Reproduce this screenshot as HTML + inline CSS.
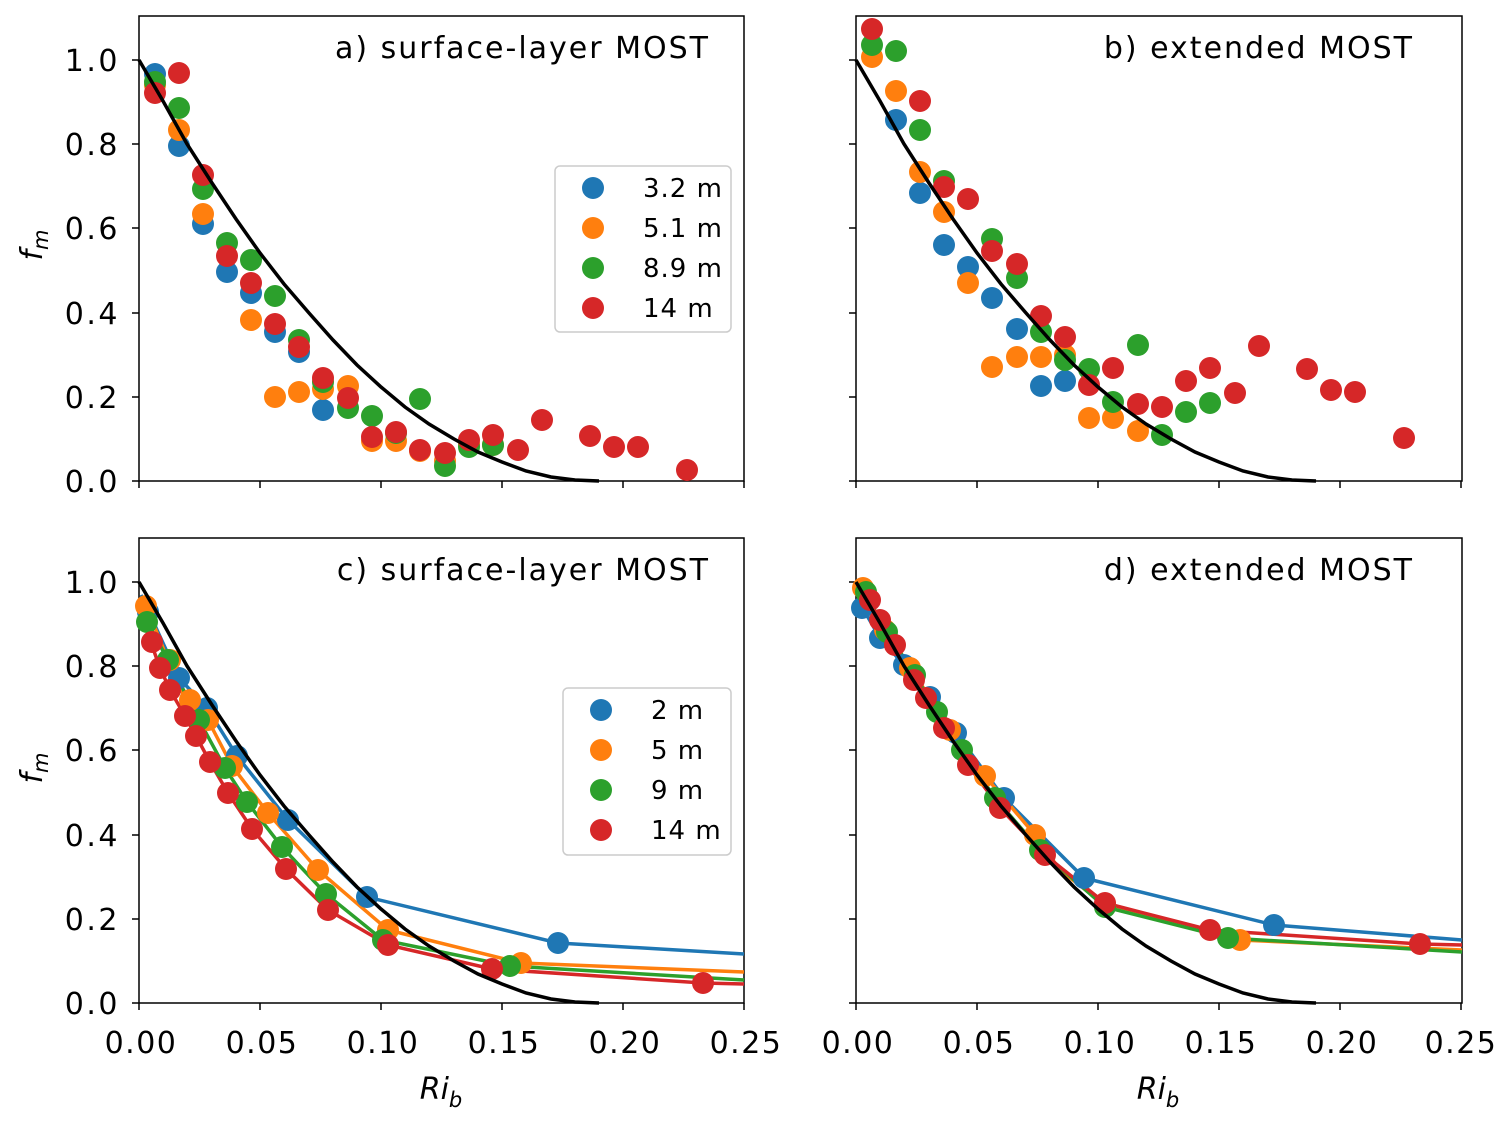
<!DOCTYPE html>
<html><head><meta charset="utf-8"><style>body{margin:0;background:#fff}svg{display:block}text{font-family:"DejaVu Sans","Liberation Sans",sans-serif;fill:#000}</style></head><body>
<svg width="1510" height="1121" viewBox="0 0 1510 1121">
<defs>
<polyline id="bk" fill="none" stroke="#000" stroke-width="3.5" points="139,60 163,101 187,144 212,183 236,219 260,253 284,284 309,313 333,340 357,365 381,387 405,407 429,424 454,439 478,452 502,462 526,471 551,477 575,480 599,481"/>
<g id="yt">
<g stroke="#000" stroke-width="1.5"><line x1="132" y1="481" x2="139" y2="481"/><line x1="132" y1="397" x2="139" y2="397"/><line x1="132" y1="313" x2="139" y2="313"/><line x1="132" y1="228" x2="139" y2="228"/><line x1="132" y1="144" x2="139" y2="144"/><line x1="132" y1="60" x2="139" y2="60"/></g>
</g>
<g id="xt" stroke="#000" stroke-width="1.5"><line x1="139" y1="481" x2="139" y2="488"/><line x1="260" y1="481" x2="260" y2="488"/><line x1="381" y1="481" x2="381" y2="488"/><line x1="502" y1="481" x2="502" y2="488"/><line x1="623" y1="481" x2="623" y2="488"/><line x1="744" y1="481" x2="744" y2="488"/></g>
</defs>
<g fill="none" stroke="#000" stroke-width="1.5">
<rect x="139" y="16" width="605" height="465"/><rect x="856" y="16" width="606" height="465"/>
<rect x="139" y="538" width="605" height="465"/><rect x="856" y="538" width="606" height="465"/>
</g>
<use href="#yt"/><use href="#yt" x="717"/><use href="#yt" y="522"/><use href="#yt" x="717" y="522"/>
<use href="#xt"/><use href="#xt" x="717"/><use href="#xt" y="522"/><use href="#xt" x="717" y="522"/>
<g font-size="30" letter-spacing="2.5" text-anchor="end">
<text x="120" y="492">0.0</text><text x="120" y="408">0.2</text><text x="120" y="324">0.4</text><text x="120" y="239">0.6</text><text x="120" y="155">0.8</text><text x="120" y="71">1.0</text>
<text x="120" y="1014">0.0</text><text x="120" y="930">0.2</text><text x="120" y="846">0.4</text><text x="120" y="761">0.6</text><text x="120" y="677">0.8</text><text x="120" y="593">1.0</text>
</g>
<g font-size="30" letter-spacing="1.5" text-anchor="middle">
<text x="141" y="1053">0.00</text><text x="262" y="1053">0.05</text><text x="383" y="1053">0.10</text><text x="504" y="1053">0.15</text><text x="625" y="1053">0.20</text><text x="746" y="1053">0.25</text>
<text x="858" y="1053">0.00</text><text x="979" y="1053">0.05</text><text x="1100" y="1053">0.10</text><text x="1221" y="1053">0.15</text><text x="1342" y="1053">0.20</text><text x="1461" y="1053">0.25</text>
</g>
<g font-size="30" text-anchor="middle">
<text x="441" y="1099" font-style="italic">Ri<tspan font-size="21" dy="8">b</tspan></text>
<text x="1158" y="1099" font-style="italic">Ri<tspan font-size="21" dy="8">b</tspan></text>
</g>
<text transform="translate(42,245) rotate(-90)" font-size="30" text-anchor="middle" font-style="italic">f<tspan font-size="21" dy="6">m</tspan></text>
<text transform="translate(42,768) rotate(-90)" font-size="30" text-anchor="middle" font-style="italic">f<tspan font-size="21" dy="6">m</tspan></text>
<g font-size="30" letter-spacing="2" text-anchor="end">
<text x="710" y="58">a) surface-layer MOST</text><text x="1414" y="58">b) extended MOST</text>
<text x="710" y="580">c) surface-layer MOST</text><text x="1414" y="580">d) extended MOST</text>
</g>
<g fill="#1f77b4"><circle cx="155" cy="74" r="11"/><circle cx="179" cy="146" r="11"/><circle cx="203" cy="224" r="11"/><circle cx="227" cy="272" r="11"/><circle cx="251" cy="293" r="11"/><circle cx="275" cy="332" r="11"/><circle cx="299" cy="352" r="11"/><circle cx="323" cy="410" r="11"/></g>
<g fill="#ff7f0e"><circle cx="155" cy="85" r="11"/><circle cx="179" cy="130" r="11"/><circle cx="203" cy="214" r="11"/><circle cx="251" cy="320" r="11"/><circle cx="275" cy="397" r="11"/><circle cx="299" cy="392" r="11"/><circle cx="323" cy="389" r="11"/><circle cx="348" cy="386" r="11"/><circle cx="372" cy="441" r="11"/><circle cx="396" cy="441" r="11"/><circle cx="420" cy="451" r="11"/><circle cx="445" cy="461" r="11"/><circle cx="469" cy="444" r="11"/><circle cx="493" cy="445" r="11"/></g>
<g fill="#2ca02c"><circle cx="155" cy="82" r="11"/><circle cx="179" cy="108" r="11"/><circle cx="203" cy="189" r="11"/><circle cx="227" cy="243" r="11"/><circle cx="251" cy="260" r="11"/><circle cx="275" cy="296" r="11"/><circle cx="299" cy="340" r="11"/><circle cx="323" cy="382" r="11"/><circle cx="348" cy="408" r="11"/><circle cx="372" cy="416" r="11"/><circle cx="396" cy="433" r="11"/><circle cx="420" cy="399" r="11"/><circle cx="445" cy="466" r="11"/><circle cx="469" cy="447" r="11"/><circle cx="493" cy="445" r="11"/></g>
<g fill="#d62728"><circle cx="155" cy="93" r="11"/><circle cx="179" cy="73" r="11"/><circle cx="203" cy="175" r="11"/><circle cx="227" cy="256" r="11"/><circle cx="251" cy="283" r="11"/><circle cx="275" cy="324" r="11"/><circle cx="299" cy="347" r="11"/><circle cx="323" cy="378" r="11"/><circle cx="348" cy="398" r="11"/><circle cx="372" cy="437" r="11"/><circle cx="396" cy="432" r="11"/><circle cx="420" cy="450" r="11"/><circle cx="445" cy="453" r="11"/><circle cx="469" cy="440" r="11"/><circle cx="493" cy="435" r="11"/><circle cx="518" cy="450" r="11"/><circle cx="542" cy="420" r="11"/><circle cx="590" cy="436" r="11"/><circle cx="614" cy="447" r="11"/><circle cx="638" cy="447" r="11"/><circle cx="687" cy="470" r="11"/></g>
<use href="#bk"/>
<g fill="#1f77b4"><circle cx="896" cy="120" r="11"/><circle cx="920" cy="193" r="11"/><circle cx="944" cy="245" r="11"/><circle cx="968" cy="267" r="11"/><circle cx="992" cy="298" r="11"/><circle cx="1017" cy="329" r="11"/><circle cx="1041" cy="386" r="11"/><circle cx="1065" cy="381" r="11"/></g>
<g fill="#ff7f0e"><circle cx="872" cy="57" r="11"/><circle cx="896" cy="91" r="11"/><circle cx="920" cy="172" r="11"/><circle cx="944" cy="212" r="11"/><circle cx="968" cy="283" r="11"/><circle cx="992" cy="367" r="11"/><circle cx="1017" cy="357" r="11"/><circle cx="1041" cy="357" r="11"/><circle cx="1065" cy="355" r="11"/><circle cx="1089" cy="418" r="11"/><circle cx="1113" cy="418" r="11"/><circle cx="1138" cy="431" r="11"/></g>
<g fill="#2ca02c"><circle cx="872" cy="45" r="11"/><circle cx="896" cy="51" r="11"/><circle cx="920" cy="130" r="11"/><circle cx="944" cy="181" r="11"/><circle cx="992" cy="239" r="11"/><circle cx="1017" cy="278" r="11"/><circle cx="1041" cy="332" r="11"/><circle cx="1065" cy="360" r="11"/><circle cx="1089" cy="369" r="11"/><circle cx="1113" cy="402" r="11"/><circle cx="1138" cy="345" r="11"/><circle cx="1162" cy="435" r="11"/><circle cx="1186" cy="412" r="11"/><circle cx="1210" cy="403" r="11"/></g>
<g fill="#d62728"><circle cx="872" cy="29" r="11"/><circle cx="920" cy="101" r="11"/><circle cx="944" cy="187" r="11"/><circle cx="968" cy="199" r="11"/><circle cx="992" cy="251" r="11"/><circle cx="1017" cy="264" r="11"/><circle cx="1041" cy="316" r="11"/><circle cx="1065" cy="337" r="11"/><circle cx="1089" cy="385" r="11"/><circle cx="1113" cy="368" r="11"/><circle cx="1138" cy="404" r="11"/><circle cx="1162" cy="407" r="11"/><circle cx="1186" cy="381" r="11"/><circle cx="1210" cy="368" r="11"/><circle cx="1235" cy="393" r="11"/><circle cx="1259" cy="346" r="11"/><circle cx="1307" cy="369" r="11"/><circle cx="1331" cy="390" r="11"/><circle cx="1355" cy="392" r="11"/><circle cx="1404" cy="438" r="11"/></g>
<use href="#bk" x="717"/>
<g fill="none" stroke-width="3.5">
<polyline stroke="#1f77b4" points="141,595 179,678 207,708 237,756 288,820 367,897 558,943 744,954"/>
<polyline stroke="#ff7f0e" points="145,603 180,690 208,720 232,766 268,813 318,870 388,930 521,963 744,972"/>
<polyline stroke="#2ca02c" points="145,618 168,660 199,720 225,768 247,802 282,847 326,894 383,940 510,966 744,980"/>
<polyline stroke="#d62728" points="150,640 160,668 170,690 185,716 196,736 210,762 228,793 252,829 286,869 328,910 388,945 492,969 703,983 744,984"/>
</g>
<g fill="#1f77b4"><circle cx="148" cy="612" r="11"/><circle cx="179" cy="678" r="11"/><circle cx="207" cy="708" r="11"/><circle cx="237" cy="756" r="11"/><circle cx="288" cy="820" r="11"/><circle cx="367" cy="897" r="11"/><circle cx="558" cy="943" r="11"/></g>
<g fill="#ff7f0e"><circle cx="146" cy="606" r="11"/><circle cx="170" cy="660" r="11"/><circle cx="190" cy="700" r="11"/><circle cx="208" cy="720" r="11"/><circle cx="232" cy="766" r="11"/><circle cx="268" cy="813" r="11"/><circle cx="318" cy="870" r="11"/><circle cx="388" cy="930" r="11"/><circle cx="521" cy="963" r="11"/></g>
<g fill="#2ca02c"><circle cx="147" cy="622" r="11"/><circle cx="168" cy="660" r="11"/><circle cx="199" cy="720" r="11"/><circle cx="225" cy="768" r="11"/><circle cx="247" cy="802" r="11"/><circle cx="282" cy="847" r="11"/><circle cx="326" cy="894" r="11"/><circle cx="383" cy="940" r="11"/><circle cx="510" cy="966" r="11"/></g>
<g fill="#d62728"><circle cx="152" cy="642" r="11"/><circle cx="160" cy="668" r="11"/><circle cx="170" cy="690" r="11"/><circle cx="185" cy="716" r="11"/><circle cx="196" cy="736" r="11"/><circle cx="210" cy="762" r="11"/><circle cx="228" cy="793" r="11"/><circle cx="252" cy="829" r="11"/><circle cx="286" cy="869" r="11"/><circle cx="328" cy="910" r="11"/><circle cx="388" cy="945" r="11"/><circle cx="492" cy="969" r="11"/><circle cx="703" cy="983" r="11"/></g>
<use href="#bk" y="522"/>
<g fill="none" stroke-width="3.5">
<polyline stroke="#1f77b4" points="858,600 880,638 904,665 930,697 956,733 1004,798 1084,878 1274,925 1462,940"/>
<polyline stroke="#ff7f0e" points="860,585 885,630 910,668 935,705 960,742 985,776 1035,835 1060,870 1105,905 1240,940 1462,950"/>
<polyline stroke="#2ca02c" points="862,588 887,632 912,670 937,712 962,750 995,798 1040,850 1105,907 1228,938 1462,952"/>
<polyline stroke="#d62728" points="864,592 889,640 914,680 939,718 968,765 1000,808 1045,855 1105,903 1210,930 1420,944 1462,945"/>
</g>
<g fill="#1f77b4"><circle cx="862" cy="608" r="11"/><circle cx="880" cy="638" r="11"/><circle cx="904" cy="665" r="11"/><circle cx="930" cy="697" r="11"/><circle cx="956" cy="733" r="11"/><circle cx="1004" cy="798" r="11"/><circle cx="1084" cy="878" r="11"/><circle cx="1274" cy="925" r="11"/></g>
<g fill="#ff7f0e"><circle cx="863" cy="588" r="11"/><circle cx="885" cy="630" r="11"/><circle cx="910" cy="668" r="11"/><circle cx="950" cy="730" r="11"/><circle cx="985" cy="776" r="11"/><circle cx="1035" cy="835" r="11"/><circle cx="1105" cy="905" r="11"/><circle cx="1240" cy="940" r="11"/></g>
<g fill="#2ca02c"><circle cx="866" cy="592" r="11"/><circle cx="887" cy="632" r="11"/><circle cx="915" cy="675" r="11"/><circle cx="937" cy="712" r="11"/><circle cx="962" cy="750" r="11"/><circle cx="995" cy="798" r="11"/><circle cx="1040" cy="850" r="11"/><circle cx="1105" cy="907" r="11"/><circle cx="1228" cy="938" r="11"/></g>
<g fill="#d62728"><circle cx="870" cy="600" r="11"/><circle cx="880" cy="620" r="11"/><circle cx="895" cy="645" r="11"/><circle cx="914" cy="680" r="11"/><circle cx="926" cy="698" r="11"/><circle cx="944" cy="728" r="11"/><circle cx="968" cy="765" r="11"/><circle cx="1000" cy="808" r="11"/><circle cx="1045" cy="855" r="11"/><circle cx="1105" cy="903" r="11"/><circle cx="1210" cy="930" r="11"/><circle cx="1420" cy="944" r="11"/></g>
<use href="#bk" x="717" y="522"/>
<rect x="555" y="166" width="176" height="166" rx="5" fill="#fff" fill-opacity="0.85" stroke="#ccc" stroke-width="1.5"/>
<circle cx="593" cy="188" r="11" fill="#1f77b4"/><circle cx="593" cy="228" r="11" fill="#ff7f0e"/><circle cx="593" cy="268" r="11" fill="#2ca02c"/><circle cx="593" cy="308" r="11" fill="#d62728"/>
<g font-size="26" letter-spacing="1"><text x="643" y="197">3.2 m</text><text x="643" y="237">5.1 m</text><text x="643" y="277">8.9 m</text><text x="643" y="317">14 m</text></g>
<rect x="563" y="688" width="168" height="167" rx="5" fill="#fff" fill-opacity="0.85" stroke="#ccc" stroke-width="1.5"/>
<circle cx="601" cy="710" r="11" fill="#1f77b4"/><circle cx="601" cy="750" r="11" fill="#ff7f0e"/><circle cx="601" cy="790" r="11" fill="#2ca02c"/><circle cx="601" cy="830" r="11" fill="#d62728"/>
<g font-size="26" letter-spacing="1"><text x="651" y="719">2 m</text><text x="651" y="759">5 m</text><text x="651" y="799">9 m</text><text x="651" y="839">14 m</text></g>
</svg>
</body></html>
